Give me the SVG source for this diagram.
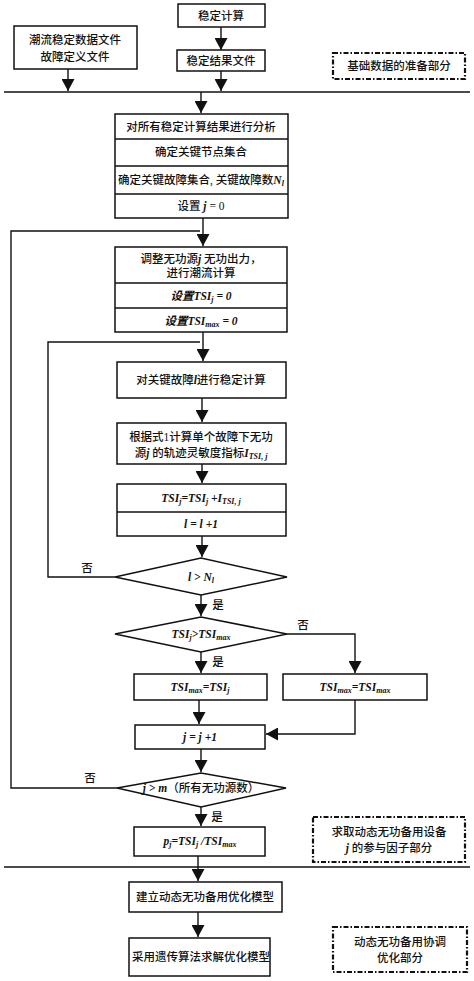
<svg xmlns="http://www.w3.org/2000/svg" width="474" height="981" viewBox="0 0 474 981">
<style>
.b{fill:#fff;stroke:#111;stroke-width:1.5}
.d{fill:#fff;stroke:#111;stroke-width:2.2;stroke-dasharray:5 2 1.5 2}
.l{fill:none;stroke:#111;stroke-width:1.4}
text{font-family:"Liberation Serif","Noto Sans CJK SC",serif;font-size:11.5px;fill:#111;text-anchor:middle;dominant-baseline:central;font-weight:500}
.i{font-style:italic;font-weight:bold}
.s{font-size:8px}
</style>
<defs>
<marker id="a" markerUnits="userSpaceOnUse" markerWidth="12" markerHeight="13" refX="12" refY="6.5" orient="auto">
<path d="M0,0 L12,6.5 L0,13 Z" fill="#111"/>
</marker>
</defs>
<rect width="474" height="981" fill="#fff"/>
<g id="connectors">
<line class="l" x1="221" y1="27" x2="221" y2="50" marker-end="url(#a)"/>
<line class="l" x1="221" y1="71" x2="221" y2="91" marker-end="url(#a)"/>
<line class="l" x1="68" y1="69" x2="68" y2="91" marker-end="url(#a)"/>
<line class="l" x1="4" y1="92" x2="470" y2="92"/>
<line class="l" x1="201" y1="92" x2="201" y2="113" marker-end="url(#a)"/>
<line class="l" x1="203" y1="218" x2="203" y2="246" marker-end="url(#a)"/>
<polyline class="l" points="117,788 11,788 11,231 200,231"/>
<line class="l" x1="203" y1="332" x2="203" y2="361" marker-end="url(#a)"/>
<polyline class="l" points="115,577 48,577 48,342 200,342"/>
<line class="l" x1="202" y1="398" x2="202" y2="422" marker-end="url(#a)"/>
<line class="l" x1="202" y1="464" x2="202" y2="483" marker-end="url(#a)"/>
<line class="l" x1="202" y1="536" x2="202" y2="557" marker-end="url(#a)"/>
<line class="l" x1="201" y1="595" x2="201" y2="616" marker-end="url(#a)"/>
<polyline class="l" points="287,634 355,634 355,673" marker-end="url(#a)"/>
<line class="l" x1="201" y1="652" x2="201" y2="673" marker-end="url(#a)"/>
<line class="l" x1="199" y1="700" x2="199" y2="724" marker-end="url(#a)"/>
<polyline class="l" points="355,700 355,734 266,734" marker-end="url(#a)"/>
<line class="l" x1="201" y1="749" x2="201" y2="772" marker-end="url(#a)"/>
<line class="l" x1="201" y1="807" x2="201" y2="826" marker-end="url(#a)"/>
<line class="l" x1="4" y1="867" x2="470" y2="867"/>
<line class="l" x1="198" y1="856" x2="198" y2="881" marker-end="url(#a)"/>
<line class="l" x1="198" y1="912" x2="198" y2="937" marker-end="url(#a)"/>
</g>
<g id="n-calc"><rect class="b" x="178" y="4" width="87" height="23"/><text x="221" y="16">稳定计算</text></g>
<g id="n-data"><rect class="b" x="14" y="26" width="123" height="43"/><text x="75" y="40">潮流稳定数据文件</text><text x="75" y="57">故障定义文件</text></g>
<g id="n-result"><rect class="b" x="177" y="50" width="88" height="21"/><text x="221" y="61">稳定结果文件</text></g>
<g id="n-part1"><rect class="d" x="333" y="53" width="132" height="26"/><text x="399" y="66">基础数据的准备部分</text></g>
<g id="n-analysis">
<rect class="b" x="115" y="114" width="173" height="104"/>
<line class="l" x1="115" y1="139" x2="288" y2="139"/>
<line class="l" x1="115" y1="166" x2="288" y2="166"/>
<line class="l" x1="115" y1="194" x2="288" y2="194"/>
<text x="201" y="127">对所有稳定计算结果进行分析</text>
<text x="201" y="152">确定关键节点集合</text>
<text x="201" y="180">确定关键故障集合, 关键故障数<tspan class="i">N</tspan><tspan class="i s" dy="3">l</tspan></text>
<text x="201" y="206">设置 <tspan class="i">j</tspan> = 0</text>
</g>
<g id="n-adjust">
<rect class="b" x="115" y="247" width="172" height="85"/>
<line class="l" x1="115" y1="283" x2="287" y2="283"/>
<line class="l" x1="115" y1="308" x2="287" y2="308"/>
<text x="201" y="259">调整无功源<tspan class="i">j</tspan> 无功出力，</text>
<text x="201" y="273">进行潮流计算</text>
<text x="201" y="296" class="i">设置TSI<tspan class="s" dy="3">j</tspan><tspan dy="-3"> =  0</tspan></text>
<text x="201" y="321" class="i">设置TSI<tspan class="s" dy="3">max</tspan><tspan dy="-3"> =  0</tspan></text>
</g>
<g id="n-fault"><rect class="b" x="117" y="362" width="169" height="36"/><text x="201" y="380">对关键故障<tspan class="i">l</tspan>进行稳定计算</text></g>
<g id="n-index"><rect class="b" x="117" y="423" width="169" height="41"/><text x="201" y="437">根据式1计算单个故障下无功</text><text x="201" y="453">源<tspan class="i">j</tspan> 的轨迹灵敏度指标<tspan class="i">I</tspan><tspan class="i s" dy="3">TSI, j</tspan></text></g>
<g id="n-sum">
<rect class="b" x="117" y="484" width="169" height="52"/>
<line class="l" x1="117" y1="512" x2="286" y2="512"/>
<text x="201" y="498" class="i">TSI<tspan class="s" dy="3">j</tspan><tspan dy="-3">=TSI</tspan><tspan class="s" dy="3">j</tspan><tspan dy="-3"> +I</tspan><tspan class="s" dy="3">TSI, j</tspan></text>
<text x="201" y="524" class="i">l  =  l  +1</text>
</g>
<g id="n-d1"><polygon class="b" points="115,577 201,558 287,577 201,595"/><text x="201" y="577" class="i">l  &gt;  N<tspan class="s" dy="3">l</tspan></text></g>
<g id="n-d2"><polygon class="b" points="115,634 201,617 287,634 201,652"/><text x="201" y="634" class="i">TSI<tspan class="s" dy="3">j</tspan><tspan dy="-3">&gt;TSI</tspan><tspan class="s" dy="3">max</tspan></text></g>
<g id="n-max1"><rect class="b" x="134" y="674" width="133" height="26"/><text x="200" y="687" class="i">TSI<tspan class="s" dy="3">max</tspan><tspan dy="-3">=TSI</tspan><tspan class="s" dy="3">j</tspan></text></g>
<g id="n-max2"><rect class="b" x="283" y="674" width="144" height="26"/><text x="355" y="687" class="i">TSI<tspan class="s" dy="3">max</tspan><tspan dy="-3">=TSI</tspan><tspan class="s" dy="3">max</tspan></text></g>
<g id="n-inc"><rect class="b" x="135" y="725" width="130" height="24"/><text x="200" y="737" class="i">j  =  j  +1</text></g>
<g id="n-d3"><polygon class="b" points="117,788 201,773 286,788 201,807"/><text x="201" y="788"><tspan class="i">j  &gt;  m</tspan>（所有无功源数）</text></g>
<g id="n-p"><rect class="b" x="134" y="827" width="131" height="29"/><text x="200" y="841" class="i">p<tspan class="s" dy="3">j</tspan><tspan dy="-3">=TSI</tspan><tspan class="s" dy="3">j</tspan><tspan dy="-3"> /TSI</tspan><tspan class="s" dy="3">max</tspan></text></g>
<g id="n-part2"><rect class="d" x="313" y="817" width="152" height="45"/><text x="389" y="832">求取动态无功备用设备</text><text x="389" y="848"><tspan class="i">j</tspan> 的参与因子部分</text></g>
<g id="n-model"><rect class="b" x="129" y="882" width="153" height="30"/><text x="205" y="897">建立动态无功备用优化模型</text></g>
<g id="n-ga"><rect class="b" x="129" y="938" width="141" height="38"/><text x="201" y="957">采用遗传算法求解优化模型</text></g>
<g id="n-part3"><rect class="d" x="333" y="927" width="134" height="45"/><text x="400" y="942">动态无功备用协调</text><text x="400" y="958">优化部分</text></g>
<g id="labels">
<text x="87" y="568">否</text>
<text x="218" y="605">是</text>
<text x="303" y="625">否</text>
<text x="218" y="662">是</text>
<text x="90" y="778">否</text>
<text x="217" y="817">是</text>
</g>
</svg>
